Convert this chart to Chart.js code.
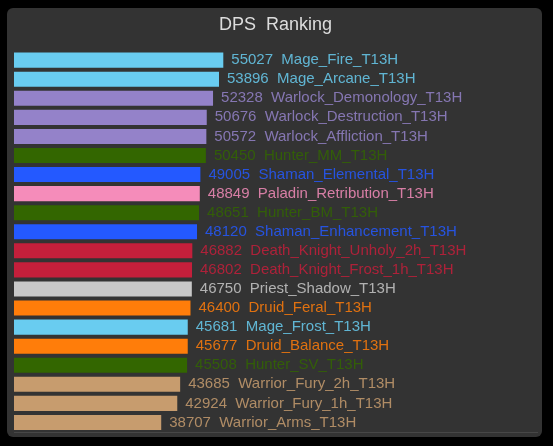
<!DOCTYPE html>
<html>
<head>
<meta charset="utf-8">
<script src="https://cdn.jsdelivr.net/npm/chart.js@4.4.0/dist/chart.umd.min.js"></script>
<style>
    html, body { margin: 0; padding: 0; background: #000; }
    #panel {
        position: absolute;
        left: 7px;
        top: 8px;
        width: 535px;
        height: 429px;
        background: #333;
        border-radius: 6px;
        overflow: hidden;
    }
</style>
</head>
<body>
<div id="panel"><canvas id="chart" width="535" height="429"></canvas></div>
<script>
const specs = [
    'Mage_Fire_T13H', 'Mage_Arcane_T13H', 'Warlock_Demonology_T13H', 'Warlock_Destruction_T13H',
    'Warlock_Affliction_T13H', 'Hunter_MM_T13H', 'Shaman_Elemental_T13H', 'Paladin_Retribution_T13H',
    'Hunter_BM_T13H', 'Shaman_Enhancement_T13H', 'Death_Knight_Unholy_2h_T13H', 'Death_Knight_Frost_1h_T13H',
    'Priest_Shadow_T13H', 'Druid_Feral_T13H', 'Mage_Frost_T13H', 'Druid_Balance_T13H',
    'Hunter_SV_T13H', 'Warrior_Fury_2h_T13H', 'Warrior_Fury_1h_T13H', 'Warrior_Arms_T13H',
];
const dps = [
    55027, 53896, 52328, 50676, 50572, 50450, 49005, 48849, 48651, 48120,
    46882, 46802, 46750, 46400, 45681, 45677, 45508, 43685, 42924, 38707,
];
const classes = [
    'Mage', 'Mage', 'Warlock', 'Warlock', 'Warlock', 'Hunter', 'Shaman', 'Paladin', 'Hunter', 'Shaman',
    'Death_Knight', 'Death_Knight', 'Priest', 'Druid', 'Mage', 'Druid', 'Hunter', 'Warrior', 'Warrior', 'Warrior',
];
const xMax = 137500;

const classColors = {
    Mage: '105, 204, 240',
    Warlock: '148, 130, 201',
    Hunter: '51, 102, 0',
    Shaman: '36, 89, 255',
    Paladin: '245, 140, 186',
    Death_Knight: '196, 31, 59',
    Priest: '200, 200, 200',
    Druid: '255, 125, 10',
    Warrior: '199, 156, 110',
};

const barColors = classes.map(c => `rgb(${classColors[c]})`);
const textColors = classes.map(c => `rgba(${classColors[c]}, 0.85)`);

// value + name written just past the end of each bar
const barLabels = {
    id: 'barLabels',
    afterDatasetsDraw(chart) {
        const ctx = chart.ctx;
        const meta = chart.getDatasetMeta(0);
        ctx.save();
        ctx.font = '15px "Liberation Sans", Arial, sans-serif';
        ctx.textBaseline = 'middle';
        ctx.textAlign = 'left';
        meta.data.forEach((bar, i) => {
            ctx.fillStyle = textColors[i];
            ctx.fillText(dps[i] + '  ' + specs[i], bar.x + 8, bar.y);
        });
        ctx.restore();
    },
};

new Chart(document.getElementById('chart'), {
    type: 'bar',
    data: {
        labels: specs,
        datasets: [{
            data: dps,
            backgroundColor: barColors,
            borderWidth: 0,
            categoryPercentage: 1,
            barPercentage: 0.79,
        }],
    },
    options: {
        indexAxis: 'y',
        responsive: false,
        animation: false,
        devicePixelRatio: 1,
        layout: {
            padding: { left: 7, right: 5, top: 0, bottom: 5 },
        },
        plugins: {
            legend: { display: false },
            tooltip: { enabled: false },
            title: {
                display: true,
                text: 'DPS  Ranking',
                color: '#ddd',
                font: { family: '"Liberation Sans", Arial, sans-serif', size: 18, weight: 'normal' },
                padding: { top: 6, bottom: 15 },
            },
        },
        scales: {
            x: {
                min: 0,
                max: xMax,
                ticks: { display: false },
                grid: { display: false, drawTicks: false },
                border: { display: true, color: '#474747', width: 1 },
            },
            y: {
                display: false,
            },
        },
    },
    plugins: [barLabels],
});
</script>
</body>
</html>
